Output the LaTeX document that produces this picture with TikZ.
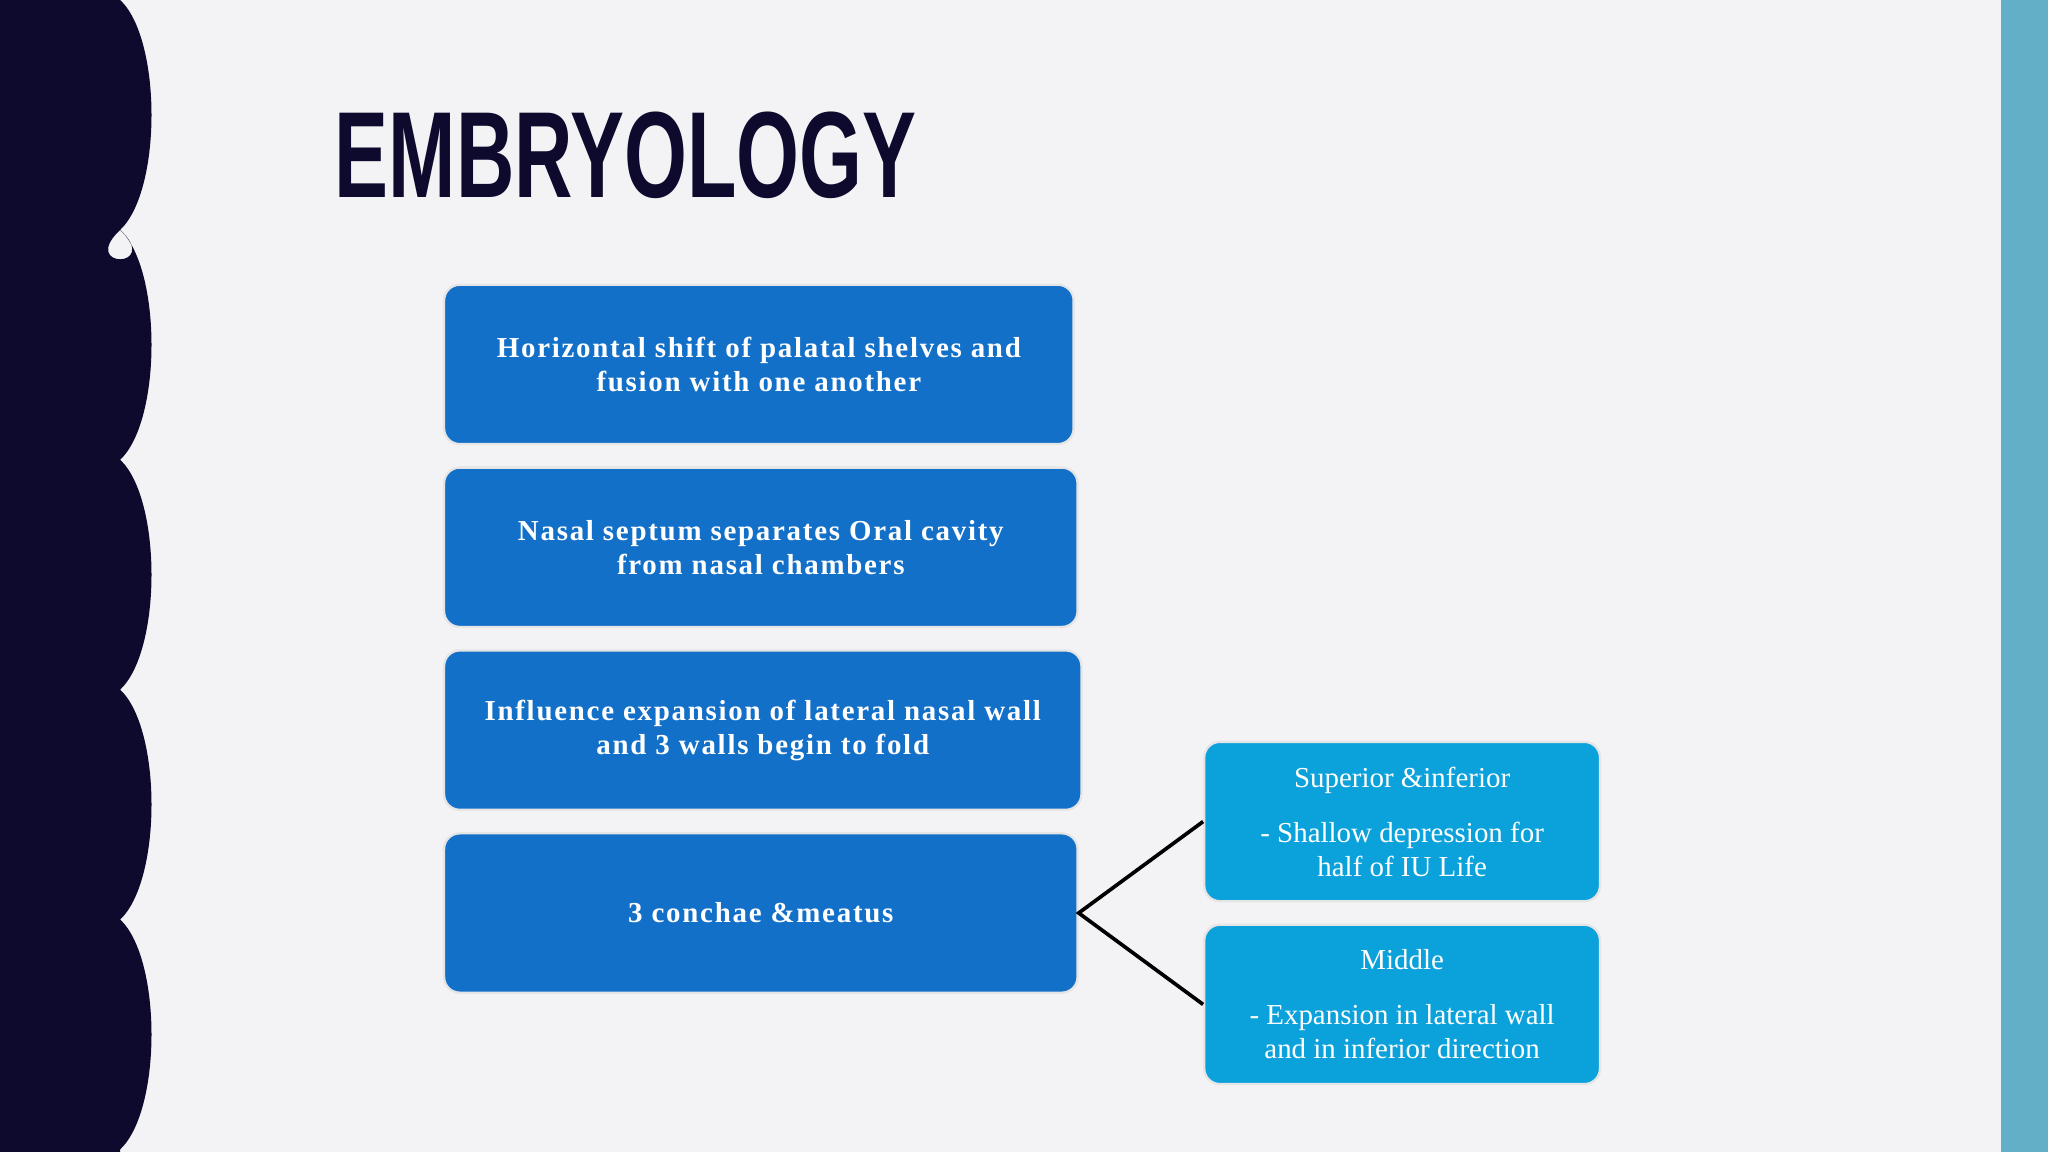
\documentclass[tikz,border=0pt]{standalone}
\usepackage{fontspec}
\setmainfont{Liberation Serif}
\newfontfamily\titlefont{Liberation Sans}
\begin{document}
\begin{tikzpicture}[x=0.1mm,y=-0.1mm,
  mainbox/.style={draw=white!80!gray,line width=0.5pt,rounded corners=1.2mm,fill=mainblue,text=white,
    font=\fontsize{6.3}{7.4}\selectfont\bfseries\addfontfeatures{LetterSpace=6},align=center,minimum height=12.2mm},
  sidebox/.style={draw=white!80!gray,line width=0.5pt,rounded corners=1.2mm,fill=sideblue,text=white,
    font=\fontsize{6.3}{7.4}\selectfont,align=center,minimum width=30.3mm,minimum height=12.2mm}]
\definecolor{bg}{HTML}{F3F3F5}
\definecolor{navy}{HTML}{0E0A2E}
\definecolor{teal}{HTML}{62B0C8}
\definecolor{mainblue}{HTML}{1370C8}
\definecolor{sideblue}{HTML}{0BA2DC}
\useasboundingbox (0,0) rectangle (1568,882);
\fill[bg] (0,0) rectangle (1568,882);
\fill[teal] (1532,0) rectangle (1568,882);
\fill[navy] (0,0) -- (92,0)
  .. controls (124,30) and (124,146) .. (92,176)
  .. controls (60,206) and (124,206) .. (92,176)
  .. controls (124,206) and (124,322) .. (92,352)
  .. controls (124,382) and (124,498) .. (92,528)
  .. controls (124,558) and (124,674) .. (92,704)
  .. controls (124,734) and (124,850) .. (92,880)
  -- (92,882) -- (0,882) -- cycle;
\node[anchor=west,text=navy,inner sep=0pt,font=\titlefont\bfseries\fontsize{26.7}{30}\selectfont,xscale=0.66] (title) at (256,119) {EMBRYOLOGY};
\node[mainbox,minimum width=48.2mm] (b1) at (581,279) {Horizontal shift of palatal shelves and\\fusion with one another};
\node[mainbox,minimum width=48.5mm] (b2) at (582.5,419) {Nasal septum separates Oral cavity\\from nasal chambers};
\node[mainbox,minimum width=48.8mm] (b3) at (584,559) {Influence expansion of lateral nasal wall\\and 3 walls begin to fold};
\node[mainbox,minimum width=48.5mm] (b4) at (582.5,699) {3 conchae \&meatus};
\node[sidebox] (s1) at (1073.5,629) {Superior \&inferior\\[1.6mm]- Shallow depression for\\half of IU Life};
\node[sidebox] (s2) at (1073.5,769) {Middle\\[1.6mm]- Expansion in lateral wall\\and in inferior direction};
\draw[black,line width=0.8pt] (s1.west) -- (b4.east) -- (s2.west);
\end{tikzpicture}
\end{document}
